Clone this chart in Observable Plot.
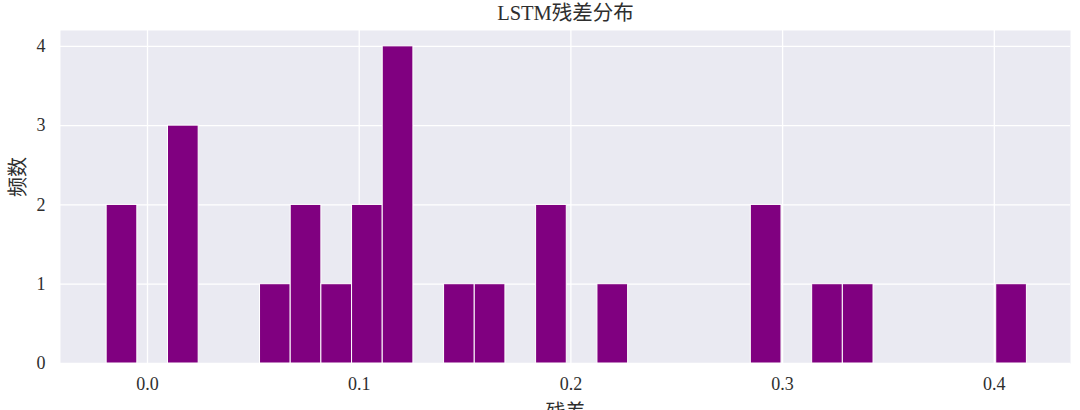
<!DOCTYPE html>
<html>
<head>
<meta charset="utf-8">
<script src="https://cdn.jsdelivr.net/npm/d3@7"></script>
<script src="https://cdn.jsdelivr.net/npm/@observablehq/plot@0.6"></script>
<style>
  html, body { margin: 0; padding: 0; background: #ffffff; }
  #chart { width: 1080px; height: 410px; overflow: hidden; }
</style>
</head>
<body>
<div id="chart"></div>
<script>
const title = "LSTM残差分布";
const xLabel = "残差";
const yLabel = "频数";

// Histogram bins (non-empty ones)
const binStart = [-0.0193, 0.00968, 0.05315, 0.06764, 0.08213, 0.09662, 0.11111, 0.14009, 0.15458, 0.18356, 0.21254, 0.28499, 0.31397, 0.32846, 0.40091];
const binEnd   = [-0.00481, 0.02417, 0.06764, 0.08213, 0.09662, 0.11111, 0.12560, 0.15458, 0.16907, 0.19805, 0.22703, 0.29948, 0.32846, 0.34295, 0.41540];
const counts   = [2, 3, 1, 2, 1, 2, 4, 1, 1, 2, 1, 2, 1, 1, 1];

const xTicks = [0.0, 0.1, 0.2, 0.3, 0.4];
const yTicks = [0, 1, 2, 3, 4];

const bins = binStart.map((s, i) => ({x1: s, x2: binEnd[i], count: counts[i]}));

const font = "'Liberation Serif', 'Noto Sans CJK SC', serif";

const chart = Plot.plot({
  width: 1080,
  height: 410,
  marginLeft: 60,
  marginRight: 10,
  marginTop: 30,
  marginBottom: 47,
  style: {fontFamily: font, fontSize: "18px", color: "#2e2e2e", background: "#ffffff", overflow: "hidden"},
  x: {domain: [-0.0411, 0.4360]},
  y: {domain: [0, 4.2]},
  marks: [
    Plot.frame({fill: "#EAEAF2", stroke: null}),
    Plot.gridX(xTicks, {stroke: "#ffffff", strokeOpacity: 1, strokeWidth: 1.3}),
    Plot.gridY(yTicks, {stroke: "#ffffff", strokeOpacity: 1, strokeWidth: 1.3}),
    Plot.rect(bins, {x1: "x1", x2: "x2", y1: 0, y2: "count", fill: "#800080", stroke: "#ffffff", strokeWidth: 1}),
    Plot.axisX(xTicks, {tickSize: 0, tickPadding: 14, tickFormat: d3.format(".1f"), label: null, fontSize: 18}),
    Plot.axisY(yTicks, {tickSize: 0, tickPadding: 15, tickFormat: d3.format("d"), label: null, fontSize: 18}),
    Plot.text([title], {frameAnchor: "top", dy: -17, lineAnchor: "middle", fontSize: 20.5}),
    Plot.text([xLabel], {frameAnchor: "bottom", dy: 41, lineAnchor: "top", fontSize: 20}),
    Plot.text([yLabel], {frameAnchor: "left", dx: -42, rotate: -90, lineAnchor: "middle", fontSize: 20})
  ]
});
document.getElementById("chart").appendChild(chart);
</script>
</body>
</html>
